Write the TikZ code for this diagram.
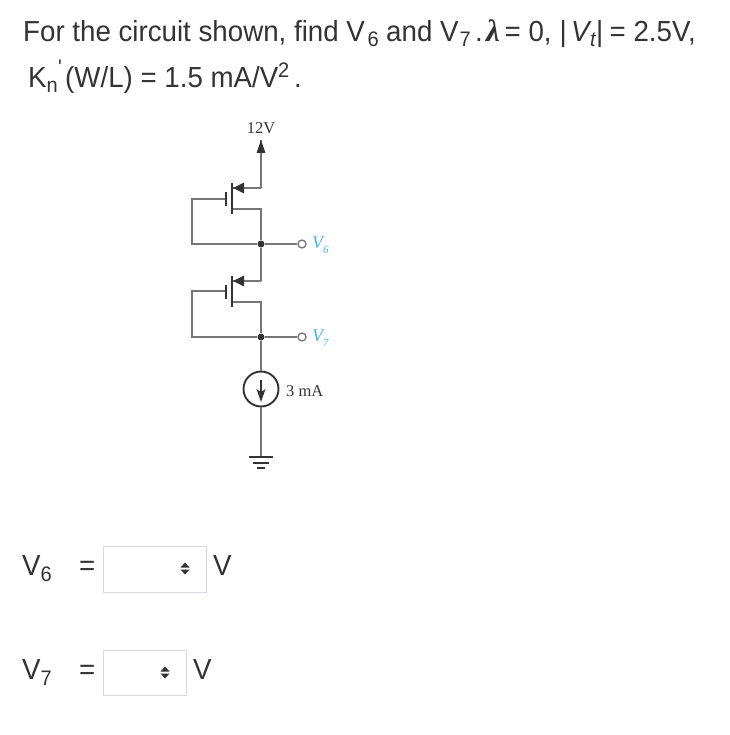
\documentclass[tikz,border=0pt]{standalone}
\usepackage{fontspec}
\setmainfont[FakeStretch=0.955]{Liberation Sans}
\newfontfamily\serifc{Liberation Serif}
\usetikzlibrary{arrows.meta}
\definecolor{wire}{HTML}{757575}
\definecolor{ink}{HTML}{333333}
\definecolor{dark}{HTML}{333333}
\definecolor{vblue}{HTML}{45B4E8}
\definecolor{boxc}{HTML}{D5D8DC}
\newcommand{\lowtext}[1]{\raisebox{-0.22em}{\fontsize{21}{21}\selectfont #1}}
\tikzset{
  line/.style={draw=wire,line width=1.5pt},
  bar/.style={draw=dark,line width=1.9pt},
  dotn/.style={circle,fill=dark,draw=none,inner sep=0,minimum size=7pt},
  opent/.style={circle,draw=wire,fill=white,line width=1.3pt,inner sep=0,minimum size=8pt},
  qtext/.style={inner sep=0,anchor=base west,text=ink,font=\fontsize{29}{34}\selectfont},
  qsub/.style={inner sep=0,anchor=base west,text=ink,font=\fontsize{21}{21}\selectfont},
  cirtext/.style={inner sep=0,text=dark,font=\serifc\fontsize{16.5}{17}\selectfont},
  vlabel/.style={inner sep=0,anchor=base west,text=vblue,font=\serifc\itshape\fontsize{18}{18}\selectfont},
  inbox/.style={draw=boxc,line width=1pt,fill=white,inner sep=0,anchor=north west},
  tri/.style={fill=dark,draw=none}
}
\begin{document}
\begin{tikzpicture}[x=1pt,y=-1pt]
\useasboundingbox (0,0) rectangle (729,735);
% question
\node[qtext] (a1) at (23,42) {For the circuit shown, find V};
\node[qsub] (a2) at (367.5,47) {6};
\node[qtext] (a3) at (386,42) {and V};
\node[qsub] (a4) at (459.5,47) {7};
\node[qtext] (a5) at (475,42) {.};
\node[qtext,font=\serifc\bfseries\itshape\fontsize{31}{34}\selectfont] (a6) at (486,42) {λ};
\node[qtext] (a7) at (504.5,42) {= 0,};
\node[qtext] (a8) at (559.5,42) {|};
\node[qtext,font=\itshape\fontsize{29}{34}\selectfont] (a9) at (571,42) {V};
\node[qsub,font=\itshape\fontsize{21}{21}\selectfont] (a10) at (590,47) {t};
\node[qtext] (a11) at (596,42) {|};
\node[qtext] (a12) at (609.5,42) {= 2.5V,};
\node[qtext] (b1) at (28,88) {K};
\node[qsub] (b2) at (46.5,93) {n};
\node[qsub] (b3) at (58,75) {\textquotesingle};
\node[qtext] (b4) at (65,88) {(W/L) = 1.5 mA/V};
\node[qsub] (b5) at (278,78) {2};
\node[qtext] (b6) at (294,88) {.};
% circuit
\node[cirtext] (vdd) at (261,128) {12V};
\coordinate (tip) at (261,140);
\coordinate (s6) at (261,188);
\coordinate (c6s) at (232,188);
\coordinate (c6d) at (232,209);
\coordinate (d6) at (261,209);
\coordinate (g6) at (226,199);
\coordinate (gl6) at (192,199);
\coordinate (gb6) at (192,244);
\node[dotn] (n6) at (261,244) {};
\node[opent] (o6) at (302,244) {};
\node[vlabel] (v6) at (312,248.5) {V\raisebox{-0.25em}{\fontsize{11}{11}\selectfont 6}};
\coordinate (s7) at (261,281);
\coordinate (c7s) at (232,281);
\coordinate (c7d) at (232,302);
\coordinate (d7) at (261,302);
\coordinate (g7) at (226,291);
\coordinate (gl7) at (192,291);
\coordinate (gb7) at (192,337);
\node[dotn] (n7) at (261,337) {};
\node[opent] (o7) at (302,337) {};
\node[vlabel] (v7) at (312,341.5) {V\raisebox{-0.25em}{\fontsize{11}{11}\selectfont 7}};
\node[circle,draw=dark,line width=1.9pt,fill=white,inner sep=0,minimum size=35pt] (cs) at (261,389) {};
\node[cirtext,anchor=west] (ma) at (286,391) {3 mA};
\coordinate (gnd) at (261,457);
% wires
\draw[line] (s6) -- (tip);
\fill[dark] (261,140) -- (265.5,153) -- (256.5,153) -- cycle;
\draw[line] (c6s) -- (s6);
\draw[line] (c6d) -- (d6) -- (n6);
\draw[line] (g6) -- (gl6) -- (gb6) -- (n6);
\draw[line] (n6) -- (o6);
\draw[line] (n6) -- (s7);
\draw[line] (c7s) -- (s7);
\draw[line] (c7d) -- (d7) -- (n7);
\draw[line] (g7) -- (gl7) -- (gb7) -- (n7);
\draw[line] (n7) -- (o7);
\draw[line] (n7) -- (cs);
\draw[line] (cs) -- (gnd);
% transistor bars
\draw[bar] (232,183) -- (232,214);
\draw[bar] (226,192) -- (226,206);
\draw[bar] (232,276) -- (232,307);
\draw[bar] (226,285) -- (226,299);
\fill[dark] (233,188) -- (244,182.5) -- (244,193.5) -- cycle;
\fill[dark] (233,281) -- (244,275.5) -- (244,286.5) -- cycle;
% current source arrow
\draw[draw=dark,line width=1.4pt] (261,380) -- (261,396);
\fill[dark] (261,402) -- (256.5,389) -- (261,392) -- (265.5,389) -- cycle;
% ground
\draw[bar] (249,457) -- (273,457);
\draw[bar] (253,463) -- (269,463);
\draw[bar] (257,468) -- (265,468);
% answers
\node[qtext] (lv6) at (22,575) {V\lowtext{6}};
\node[qtext] (eq6) at (79,575) {=};
\node[inbox,minimum width=102.5pt,minimum height=46.5pt] (b6x) at (103,545.5) {};
\fill[dark] (185,562.5) -- (189.5,567.5) -- (180.5,567.5) -- cycle;
\fill[dark] (185,574.5) -- (189.5,569.5) -- (180.5,569.5) -- cycle;
\node[qtext] (u6) at (213,575) {V};
\node[qtext] (lv7) at (22,679) {V\lowtext{7}};
\node[qtext] (eq7) at (79,679) {=};
\node[inbox,minimum width=82.5pt,minimum height=45.5pt] (b7x) at (103,649.5) {};
\fill[dark] (165,666.5) -- (169.5,671.5) -- (160.5,671.5) -- cycle;
\fill[dark] (165,678.5) -- (169.5,673.5) -- (160.5,673.5) -- cycle;
\node[qtext] (u7) at (193,679) {V};
\end{tikzpicture}
\end{document}
